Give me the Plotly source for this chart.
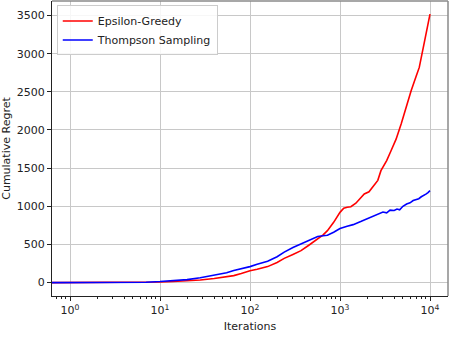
import plotly.graph_objects as go

# Epsilon-Greedy cumulative regret
eg_iter = [0.6, 1, 2, 3, 5, 7, 10, 14, 20, 28, 40, 55, 66, 80, 100, 120, 157, 200, 240,
           300, 369, 450, 565, 650, 725, 850, 1000, 1100, 1200, 1320, 1500, 1860, 2100,
           2630, 2850, 3300, 3690, 4200, 4780, 5400, 6170, 7000, 7600, 8570, 9300, 10000]
eg_regret = [0, 0, 0, 1, 2, 4, 8, 14, 22, 35, 55, 75, 92, 120, 157, 175, 210, 265, 318,
             370, 419, 490, 572, 625, 681, 790, 921, 975, 988, 995, 1040, 1161, 1190,
             1340, 1467, 1600, 1728, 1880, 2078, 2290, 2514, 2700, 2820, 3125, 3330, 3518]

# Thompson Sampling cumulative regret
ts_iter = [0.6, 1, 2, 3, 4, 5, 7, 10, 14, 20, 28, 40, 55, 66, 80, 100, 120, 157, 200, 240,
           300, 369, 450, 565, 650, 725, 850, 1000, 1200, 1400, 1700, 2100, 2630, 3000,
           3300, 3600, 4000, 4300, 4600, 5000, 5500, 6000, 6500, 7000, 7500, 8000, 8500,
           9000, 9500, 10000]
ts_regret = [0, 0, 0, 1, 2, 3, 6, 14, 22, 40, 65, 95, 130, 160, 180, 210, 240, 280, 340, 400,
             460, 510, 560, 605, 615, 620, 660, 710, 740, 760, 800, 845, 900, 925,
             915, 950, 945, 965, 955, 1000, 1030, 1045, 1075, 1090, 1100, 1125, 1140,
             1160, 1180, 1205]

x_tick_vals = [1, 10, 100, 1000, 10000]
x_tick_text = ["10<sup>0</sup>", "10<sup>1</sup>", "10<sup>2</sup>", "10<sup>3</sup>", "10<sup>4</sup>"]
y_tick_vals = [0, 500, 1000, 1500, 2000, 2500, 3000, 3500]

FONT = "DejaVu Sans"

fig = go.Figure()
fig.add_trace(go.Scatter(x=eg_iter, y=eg_regret, mode="lines", name="Epsilon-Greedy",
                         line=dict(color="#ff0000", width=1.6)))
fig.add_trace(go.Scatter(x=ts_iter, y=ts_regret, mode="lines", name="Thompson Sampling",
                         line=dict(color="#0000ff", width=1.6)))

fig.update_layout(
    width=474, height=356,
    margin=dict(l=52, r=26, t=1, b=60, autoexpand=False),
    paper_bgcolor="white", plot_bgcolor="white",
    font=dict(family=FONT, size=11, color="#222222"),
    showlegend=True,
    legend=dict(x=0.012, y=0.985, xanchor="left", yanchor="top",
                bgcolor="rgba(255,255,255,0.85)", bordercolor="#cccccc", borderwidth=1,
                font=dict(family=FONT, size=11, color="#222222"),
                tracegroupgap=0, itemwidth=30),
    xaxis=dict(
        type="log", range=[-0.2, 4.2], automargin=False,
        tickvals=x_tick_vals, ticktext=x_tick_text,
        ticks="outside", ticklen=4, tickcolor="#222222", tickwidth=1,
        showgrid=True, gridcolor="#c8c8c8", gridwidth=1,
        showline=True, linecolor="#222222", linewidth=1.2,
        zeroline=False,
        minor=dict(ticks="outside", ticklen=2, tickcolor="#222222", dtick="D1", showgrid=False),
        title=dict(text="Iterations", font=dict(family=FONT, size=11), standoff=6),
    ),
    yaxis=dict(
        range=[-175, 3690], automargin=False,
        tickvals=y_tick_vals,
        ticks="outside", ticklen=4, tickcolor="#222222", tickwidth=1,
        showgrid=True, gridcolor="#c8c8c8", gridwidth=1,
        showline=True, linecolor="#222222", linewidth=1.2,
        zeroline=False,
        title=dict(text="Cumulative Regret", font=dict(family=FONT, size=11), standoff=4),
    ),
)

# top and right spines (lighter)
fig.add_shape(type="line", xref="paper", yref="paper", x0=0, x1=1, y0=1, y1=1,
              line=dict(color="#8a8a8a", width=1.5))
fig.add_shape(type="line", xref="paper", yref="paper", x0=1, x1=1, y0=0, y1=1,
              line=dict(color="#8a8a8a", width=1.5))

fig.write_html("out.html", config={"displayModeBar": False},
               post_script="document.body.style.margin='0';document.body.style.padding='0';")
